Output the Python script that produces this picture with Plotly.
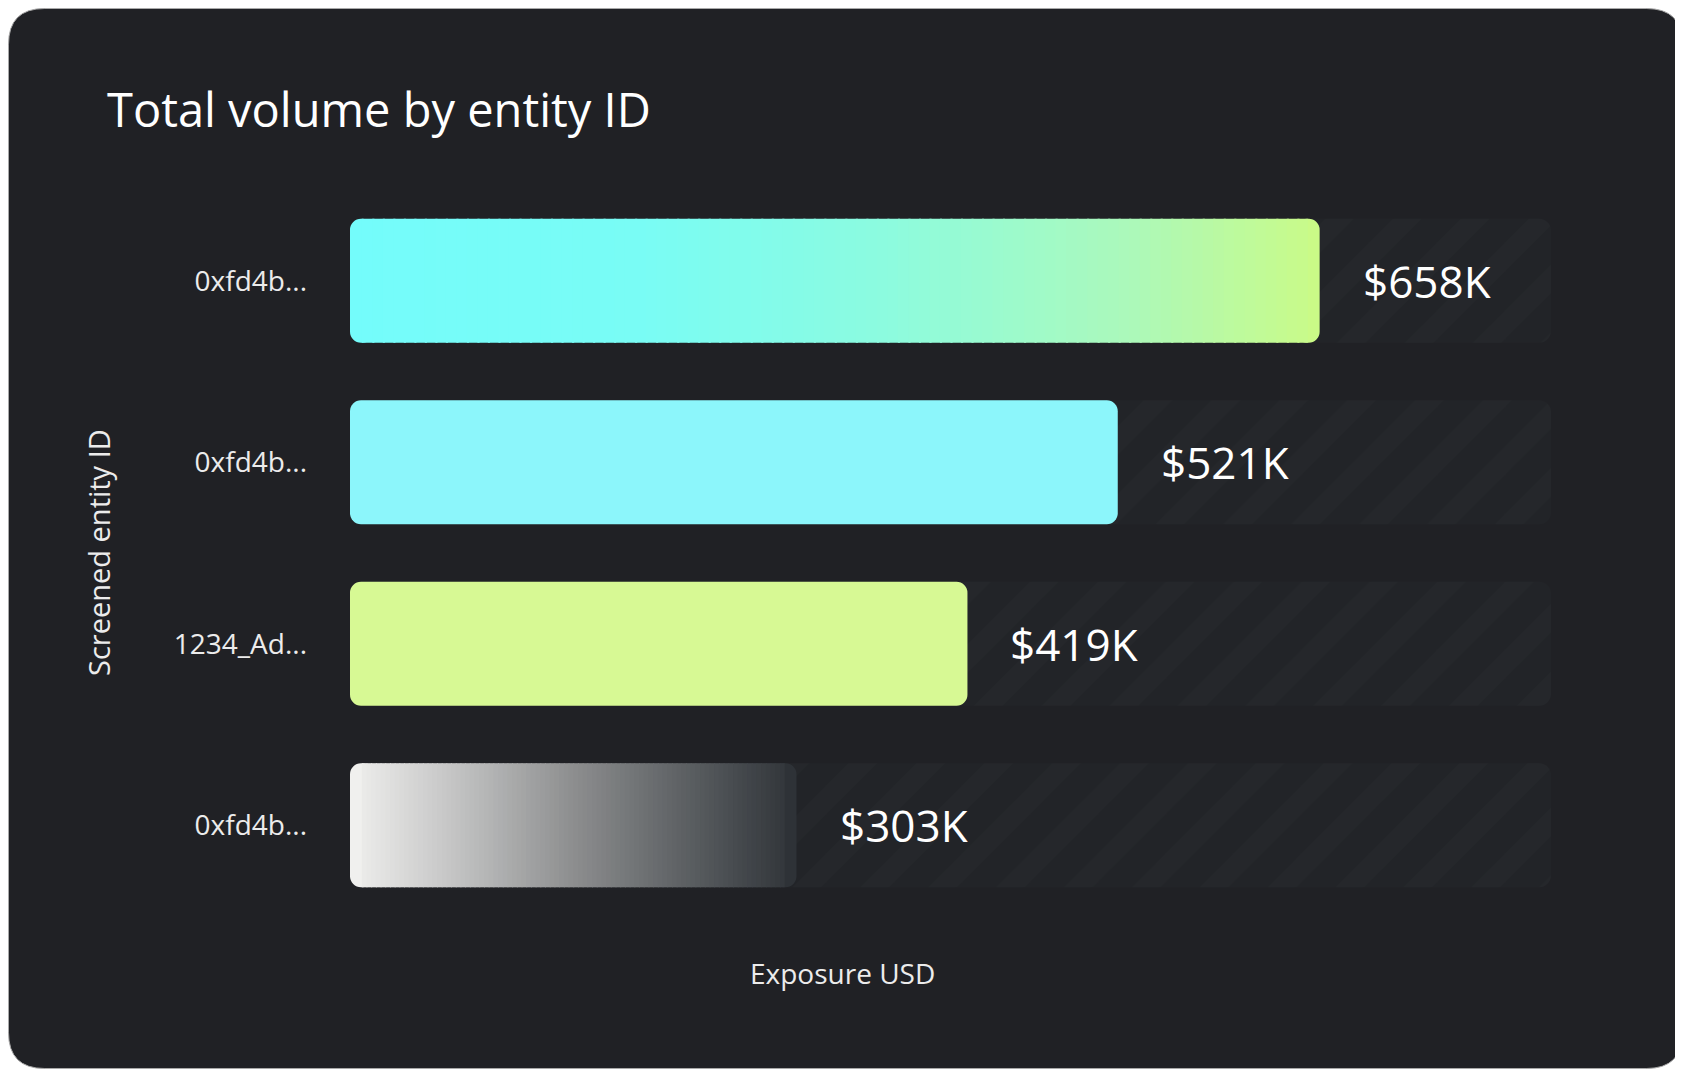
"""
Horizontal bar chart: total volume by entity ID
"""
import plotly.graph_objects as go

# data
entity_labels = ["0xfd4b...", "0xfd4b...", "1234_Ad...", "0xfd4b..."]
exposure_k = [658, 521, 419, 303]
value_text = ["$658K", "$521K", "$419K", "$303K"]
axis_max_k = 815

# colour stops per bar (position 0..1 along the bar, colour)
bar_stops = [
    [(0.0, "#74fcfb"), (0.3, "#79fcf5"), (0.55, "#8cfbdf"), (0.8, "#abf9bb"), (1.0, "#cafa87")],
    [(0.0, "#8cf6fb"), (1.0, "#8cf6fb")],
    [(0.0, "#d7f994"), (1.0, "#d7f994")],
    [(0.0, "#f0f0ee"), (0.25, "#c0c1c1"), (0.5, "#8d8e8f"), (0.75, "#5c6063"), (1.0, "#2e3237")],
]

W, H = 1683, 1070
# the page body has an 8px margin, so everything is laid out 8px up/left
L, R, T, B = 342, 140, 182, 162
CARD = "#202125"
TEXT = "#ececec"
FONT = "Open Sans"
BAR_W = 0.684
RADIUS = 11
CAP = 16  # length (in K) of the rounded end pieces of gradient bars


def hex_rgb(h):
    h = h.lstrip("#")
    return tuple(int(h[i:i + 2], 16) for i in (0, 2, 4))


def color_at(stops, t):
    for (p0, c0), (p1, c1) in zip(stops, stops[1:]):
        if t <= p1:
            f = 0 if p1 == p0 else (t - p0) / (p1 - p0)
            a, b = hex_rgb(c0), hex_rgb(c1)
            return "rgb(%d,%d,%d)" % tuple(round(a[k] + (b[k] - a[k]) * f) for k in range(3))
    return stops[-1][1]


common = dict(orientation="h", width=BAR_W, hoverinfo="skip", showlegend=False)

fig = go.Figure()
positions = list(range(len(entity_labels)))

# striped background tracks (a set base rounds both ends)
stripe = dict(shape="/", fgcolor="#27292d", bgcolor="#222428", size=48, solidity=0.42)
fig.add_trace(go.Bar(
    y=positions, x=[axis_max_k] * len(positions), base=[0] * len(positions),
    marker=dict(color="#222428", line_width=0, cornerradius=12, pattern=stripe),
    **common))

# value bars
for pos, val, stops in zip(positions, exposure_k, bar_stops):
    solid = all(c == stops[0][1] for _, c in stops)
    if solid:
        fig.add_trace(go.Bar(y=[pos], x=[val], base=[0],
                             marker=dict(color=stops[0][1], line_width=0, cornerradius=RADIUS),
                             **common))
        continue
    # rounded end pieces
    fig.add_trace(go.Bar(y=[pos, pos], x=[CAP, CAP], base=[0, val - CAP],
                         marker=dict(color=[color_at(stops, 0.0), color_at(stops, 1.0)],
                                     line_width=0, cornerradius=RADIUS),
                         **common))
    # square pieces in between carry the colour ramp
    n = 90
    start = CAP / 2
    seg = (val - CAP) / n
    bases = [start + i * seg for i in range(n)]
    cols = [color_at(stops, (b + seg / 2) / val) for b in bases]
    fig.add_trace(go.Bar(y=[pos] * n, x=[seg * 1.2] * (n - 1) + [seg], base=bases,
                         marker=dict(color=cols, line_width=0, cornerradius=0),
                         **common))

# value labels
for pos, val, txt in zip(positions, exposure_k, value_text):
    fig.add_annotation(x=val, y=pos, xref="x", yref="y", text=txt, showarrow=False,
                       xanchor="left", yanchor="middle", xshift=41,
                       font=dict(family=FONT, size=44, color="#ffffff"))

pw, ph = W - L - R, H - T - B


def px(x):
    return (x - L) / pw


def py(y):
    return (H - B - y) / ph


# axis titles
fig.add_annotation(x=px(834), y=py(965), xref="paper", yref="paper",
                   text="Exposure USD", showarrow=False,
                   xanchor="center", yanchor="middle",
                   font=dict(family=FONT, size=28, color=TEXT))
fig.add_annotation(x=px(90), y=0.5, xref="paper", yref="paper",
                   text="Screened entity ID", showarrow=False, textangle=-90,
                   xanchor="center", yanchor="middle",
                   font=dict(family=FONT, size=29, color=TEXT))

# rounded dark card behind everything
cr = 36
x0, x1, y0, y1 = 0.5, 1674.5, 0.5, 1060.5
card_path = (
    f"M {px(x0 + cr)},{py(y0)} L {px(x1 - cr)},{py(y0)} "
    f"Q {px(x1)},{py(y0)} {px(x1)},{py(y0 + cr)} L {px(x1)},{py(y1 - cr)} "
    f"Q {px(x1)},{py(y1)} {px(x1 - cr)},{py(y1)} L {px(x0 + cr)},{py(y1)} "
    f"Q {px(x0)},{py(y1)} {px(x0)},{py(y1 - cr)} L {px(x0)},{py(y0 + cr)} "
    f"Q {px(x0)},{py(y0)} {px(x0 + cr)},{py(y0)} Z"
)
fig.add_shape(type="path", path=card_path, xref="paper", yref="paper",
              fillcolor=CARD, line=dict(color="#a9a9a9", width=1), layer="below")

fig.update_layout(
    width=W, height=H,
    margin=dict(l=L, r=R, t=T, b=B),
    paper_bgcolor="#ffffff",
    plot_bgcolor="rgba(0,0,0,0)",
    barmode="overlay",
    showlegend=False,
    title=dict(text="Total volume by entity ID", x=99 / W, xanchor="left",
               xref="container", y=1 - 103 / H, yanchor="middle",
               font=dict(family=FONT, size=47, color="#ffffff")),
    xaxis=dict(range=[0, axis_max_k], visible=False, fixedrange=True),
    yaxis=dict(range=[len(entity_labels) - 0.5, -0.5], tickvals=positions,
               ticktext=entity_labels, showgrid=False, zeroline=False,
               showline=False, ticks="", ticklabelstandoff=42,
               tickfont=dict(family=FONT, size=28, color=TEXT), fixedrange=True),
)

fig.write_html("out.html")
